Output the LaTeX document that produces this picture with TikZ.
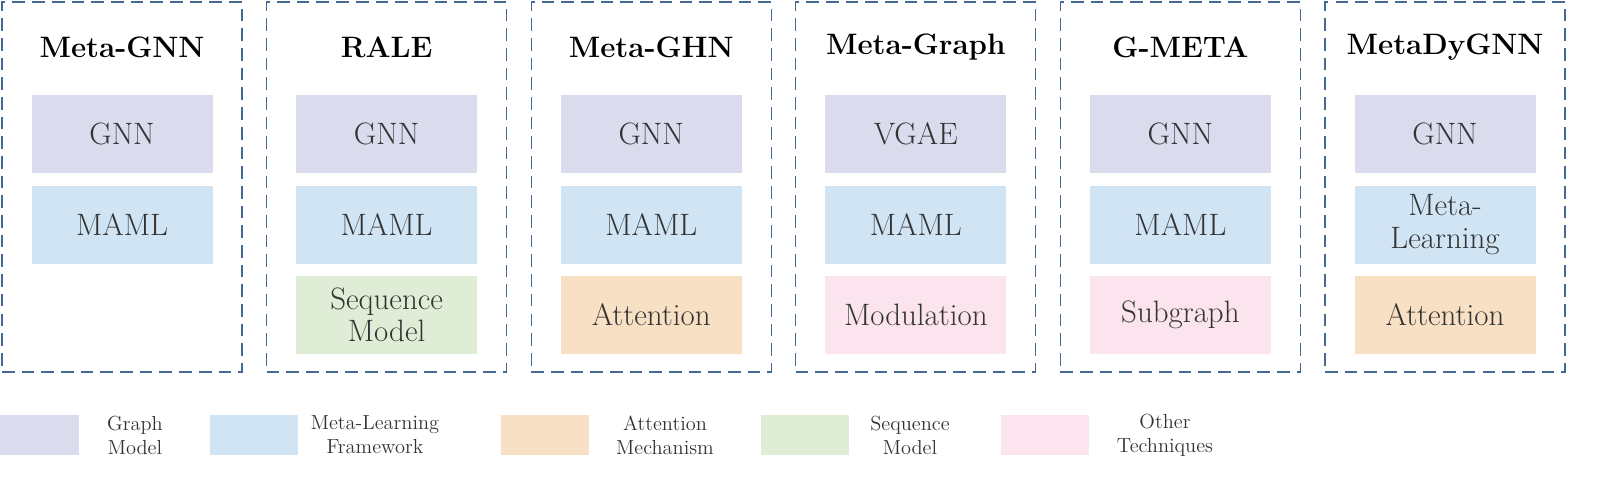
\documentclass[tikz,border=0pt]{standalone}
\usetikzlibrary{positioning}
\definecolor{graphc}{HTML}{DADCEE}
\definecolor{metac}{HTML}{D0E4F4}
\definecolor{attc}{HTML}{F8E0C4}
\definecolor{seqc}{HTML}{E0EDD6}
\definecolor{otherc}{HTML}{FCE4EE}
\definecolor{framec}{HTML}{436A92}
\definecolor{textc}{HTML}{333333}
\begin{document}
\begin{tikzpicture}[x=0.025cm,y=-0.025cm,
  panel/.style={draw=framec,thick,dash pattern=on 9pt off 5pt,minimum width=240*0.025cm,minimum height=370*0.025cm,inner sep=0pt},
  title/.style={font=\fontsize{21}{24}\selectfont\bfseries},
  block/.style={minimum width=181*0.025cm,minimum height=78*0.025cm,inner sep=1pt,align=center,text=textc,font=\fontsize{22}{23}\selectfont},
  key/.style={minimum width=88*0.025cm,minimum height=40*0.025cm,inner sep=0pt},
  keytext/.style={align=center,text=textc,font=\fontsize{14.5}{17}\selectfont}]
\useasboundingbox (0,0) rectangle (1600,480);
% panels
\foreach \i/\t in {0/Meta-GNN,1/RALE,2/Meta-GHN,3/Meta-Graph,4/G-META,5/MetaDyGNN}{
  \node[panel] (p\i) at (122+264.6*\i,187) {};
  \node[title] (t\i) at (122+264.6*\i,47) {\t};
}
% first row
\foreach \i/\t in {0/GNN,1/GNN,2/GNN,3/VGAE,4/GNN,5/GNN}
  \node[block,fill=graphc] (a\i) at (122+264.6*\i,134) {\t};
% second row
\foreach \i/\t in {0/MAML,1/MAML,2/MAML,3/MAML,4/MAML,5/Meta-\\Learning}
  \node[block,fill=metac,below=12*0.025cm of a\i] (b\i) {\t};
% third row
\node[block,fill=seqc,below=12*0.025cm of b1] (c1) {Sequence\\Model};
\node[block,fill=attc,below=12*0.025cm of b2] (c2) {Attention};
\node[block,fill=otherc,below=12*0.025cm of b3] (c3) {Modulation};
\node[block,fill=otherc,below=12*0.025cm of b4] (c4) {Subgraph};
\node[block,fill=attc,below=12*0.025cm of b5] (c5) {Attention};
% legend
\node[key,fill=graphc] (k1) at (35,435) {};
\node[keytext] (l1) at (135,435) {Graph\\Model};
\node[key,fill=metac] (k2) at (254,435) {};
\node[keytext] (l2) at (375,435) {Meta-Learning\\Framework};
\node[key,fill=attc] (k3) at (545,435) {};
\node[keytext] (l3) at (665,435) {Attention\\Mechanism};
\node[key,fill=seqc] (k4) at (805,435) {};
\node[keytext] (l4) at (910,435) {Sequence\\Model};
\node[key,fill=otherc] (k5) at (1045,435) {};
\node[keytext] (l5) at (1165,435) {Other\\Techniques};
\end{tikzpicture}
\end{document}
